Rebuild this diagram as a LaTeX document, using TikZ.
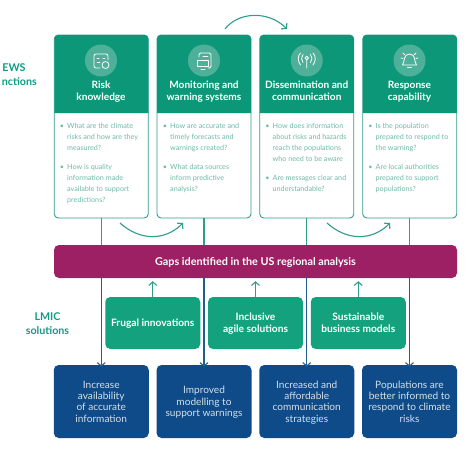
\documentclass[tikz,border=0pt]{standalone}
\usepackage{fontspec}
\setmainfont{Lato}
\usetikzlibrary{arrows.meta}
\definecolor{headteal}{HTML}{0C9878}
\definecolor{circteal}{HTML}{4FB09A}
\definecolor{frugalgreen}{HTML}{14A27E}
\definecolor{gapmagenta}{HTML}{9E2064}
\definecolor{outblue}{HTML}{0E4B88}
\definecolor{bodyteal}{HTML}{6FBAA9}
\definecolor{lineteal}{HTML}{2F9C8C}
\definecolor{lineblue}{HTML}{1F5F90}
\definecolor{sideteal}{HTML}{129A84}
\tikzset{
  cardbox/.style={draw=lineteal,line width=0.9pt,fill=white,rounded corners=4pt,minimum width=94pt,minimum height=183pt,inner sep=0pt},
  headfill/.style={fill=headteal},
  headtext/.style={text=white,font=\fontsize{10.1}{12.4}\selectfont\bfseries,align=center,inner sep=0pt,text depth=0pt},
  iconcirc/.style={circle,fill=circteal,minimum size=32pt,inner sep=0pt},
  icondraw/.style={draw=white,line width=0.8pt,line cap=round,line join=round},
  asktext/.style={anchor=north west,text=bodyteal,font=\fontsize{7.2}{11.3}\selectfont,align=left,inner sep=0pt},
  gapbox/.style={fill=gapmagenta,rounded corners=5pt,minimum width=403pt,minimum height=33pt,text=white,font=\fontsize{10.8}{13}\selectfont\bfseries,inner sep=0pt,text depth=0pt},
  solbox/.style={fill=frugalgreen,rounded corners=5pt,minimum width=95pt,minimum height=52pt,text=white,font=\fontsize{10.2}{12.4}\selectfont\bfseries,align=center,inner sep=0pt,text depth=0pt},
  outbox/.style={fill=outblue,rounded corners=5pt,minimum width=95pt,minimum height=73pt,text=white!82!outblue,font=\fontsize{10.1}{11.3}\selectfont,align=center,inner sep=0pt,text depth=0pt},
  sidetext/.style={text=sideteal,font=\fontsize{10.7}{14}\selectfont\bfseries,inner sep=0pt},
  barb/.style={-{Straight Barb[length=3.5pt,width=8pt]},line width=1.1pt},
}
\begin{document}
\begin{tikzpicture}[x=1pt,y=-1pt]
\useasboundingbox (0,0) rectangle (474,474);
% function cards
\node[cardbox] (riskcard) at (101.25,126.5) {};
\node[cardbox] (monitorcard) at (204,126.5) {};
\node[cardbox] (dissemcard) at (306.75,126.5) {};
\node[cardbox] (responsecard) at (409.75,126.5) {};
\fill[headfill] (54.25,113) [rounded corners=4pt] -- (54.25,35) -- (148.25,35) [sharp corners] -- (148.25,113) -- cycle;
\fill[headfill] (157,113) [rounded corners=4pt] -- (157,35) -- (251,35) [sharp corners] -- (251,113) -- cycle;
\fill[headfill] (259.75,113) [rounded corners=4pt] -- (259.75,35) -- (353.75,35) [sharp corners] -- (353.75,113) -- cycle;
\fill[headfill] (362.75,113) [rounded corners=4pt] -- (362.75,35) -- (456.75,35) [sharp corners] -- (456.75,113) -- cycle;
\node[iconcirc] (riskicon) at (101,60.5) {};
\node[iconcirc] (monitoricon) at (204,60.5) {};
\node[iconcirc] (dissemicon) at (306.75,60.5) {};
\node[iconcirc] (responseicon) at (409.5,60.5) {};
% icons
\draw[icondraw,rounded corners=2pt] (100,68) -- (94,68) -- (94,54) -- (108,54) -- (108,60);
\draw[icondraw] (97,58) -- (99,58) (103,58) -- (105,58) (97,62) -- (100,62);
\draw[icondraw] (105.5,65) circle (3.5);
\draw[icondraw] (197,60) rectangle (208,66) (201,69) -- (205,69);
\draw[icondraw,rounded corners=1.5pt] (199,57) -- (199,53) -- (211,53) -- (211,68) -- (208,68);
\draw[icondraw] (203,56.5) -- (208,56.5);
\draw[icondraw] (306.75,58) circle (1.8) (306.75,60) -- (306.75,68);
\draw[icondraw] (303,54.5) .. controls (301,57) and (301,60) .. (303,62.5);
\draw[icondraw] (310.5,54.5) .. controls (312.5,57) and (312.5,60) .. (310.5,62.5);
\draw[icondraw] (300.5,53) .. controls (297.5,56) and (297.5,61) .. (300.5,65);
\draw[icondraw] (313,53) .. controls (316,56) and (316,61) .. (313,65);
\draw[icondraw] (402.5,65) .. controls (405,62) and (403,54) .. (409.5,54) .. controls (416,54) and (414,62) .. (416.5,65) -- cycle;
\draw[icondraw] (407.5,67.5) -- (411.5,67.5);
\draw[icondraw] (401,58) -- (403,58.5) (418,58) -- (416,58.5) (403,53) -- (404.5,54.5) (416,53) -- (414.5,54.5);
% card titles
\node[headtext] (risktitle) at (101,91) {Risk\\knowledge};
\node[headtext] (monitortitle) at (204,91) {Monitoring and\\warning systems};
\node[headtext] (dissemtitle) at (306.75,91) {Dissemination and\\communication};
\node[headtext] (responsetitle) at (409.5,91) {Response\\capability};
% card questions
\node[asktext] (riskaskone) at (67,122.5) {\llap{\textbullet\ \,}What are the climate\\risks and how are they\\measured?};
\node[asktext] (riskasktwo) at (67,163.5) {\llap{\textbullet\ \,}How is quality\\information made\\available to support\\predictions?};
\node[asktext] (monitoraskone) at (170,122.5) {\llap{\textbullet\ \,}How are accurate and\\timely forecasts and\\warnings created?};
\node[asktext] (monitorasktwo) at (170,163.5) {\llap{\textbullet\ \,}What data sources\\inform predictive\\analysis?};
\node[asktext] (dissemaskone) at (272.5,122.5) {\llap{\textbullet\ \,}How does information\\about risks and hazards\\reach the populations\\who need to be aware};
\node[asktext] (dissemasktwo) at (272.5,174.8) {\llap{\textbullet\ \,}Are messages clear and\\understandable?};
\node[asktext] (responseaskone) at (375.5,122.5) {\llap{\textbullet\ \,}Is the population\\prepared to respond to\\the warning?};
\node[asktext] (responseasktwo) at (375.5,163.5) {\llap{\textbullet\ \,}Are local authorities\\prepared to support\\populations?};
% middle and lower rows
\node[gapbox] (gaps) at (255.5,261.5) {Gaps identified in the US regional analysis};
\node[solbox] (frugal) at (152.75,323) {Frugal innovations};
\node[solbox] (agile) at (255.5,323) {Inclusive\\agile solutions};
\node[solbox] (business) at (358.25,323) {Sustainable\\business models};
\node[outbox] (outrisk) at (101.25,401.5) {Increase\\availability\\of accurate\\information};
\node[outbox] (outmonitor) at (204,401.5) {Improved\\modelling to\\support warnings};
\node[outbox] (outdissem) at (306.75,401.5) {Increased and\\affordable\\communication\\strategies};
\node[outbox] (outresponse) at (409.5,401.5) {Populations are\\better informed to\\respond to climate\\risks};
% side labels
\node[sidetext] (ewslabel) at (14,67.5) {EWS};
\node[sidetext,anchor=east] (funclabel) at (37,81.5) {nctions};
\node[sidetext,align=center] (lmiclabel) at (47.5,324) {LMIC\\solutions};
% connectors
\draw[lineteal,line width=1.1pt] (riskcard.south) -- (riskcard.south |- gaps.north);
\draw[lineteal,line width=1.1pt] (monitorcard.south) -- (monitorcard.south |- gaps.north);
\draw[lineteal,line width=1.1pt] (dissemcard.south) -- (dissemcard.south |- gaps.north);
\draw[lineteal,line width=1.1pt] (responsecard.south) -- (responsecard.south |- gaps.north);
\draw[barb,lineblue] (outrisk.north |- gaps.south) -- ([yshift=-2pt]outrisk.north);
\draw[barb,lineblue] (outmonitor.north |- gaps.south) -- ([yshift=-2pt]outmonitor.north);
\draw[barb,lineblue] (outdissem.north |- gaps.south) -- ([yshift=-2pt]outdissem.north);
\draw[barb,lineblue] (outresponse.north |- gaps.south) -- ([yshift=-2pt]outresponse.north);
\draw[barb,lineteal] (frugal.north) -- ([yshift=-3pt]frugal.north |- gaps.south);
\draw[barb,lineteal] (agile.north) -- ([yshift=-3pt]agile.north |- gaps.south);
\draw[barb,lineteal] (business.north) -- ([yshift=-3pt]business.north |- gaps.south);
% curved arrows
\coordinate (topfrom) at (225,29);
\coordinate (topto) at (287,29);
\coordinate (lowfrom) at (120,223);
\coordinate (lowto) at (183,223);
\coordinate (nextfrom) at (327,223);
\coordinate (nextto) at (390,223);
\draw[barb,lineteal] (topfrom) .. controls (238,12) and (268,10) .. (topto);
\draw[barb,lineteal] (lowfrom) .. controls (140,241) and (165,241) .. (lowto);
\draw[barb,lineteal] (nextfrom) .. controls (347,241) and (372,241) .. (nextto);
\end{tikzpicture}
\end{document}
